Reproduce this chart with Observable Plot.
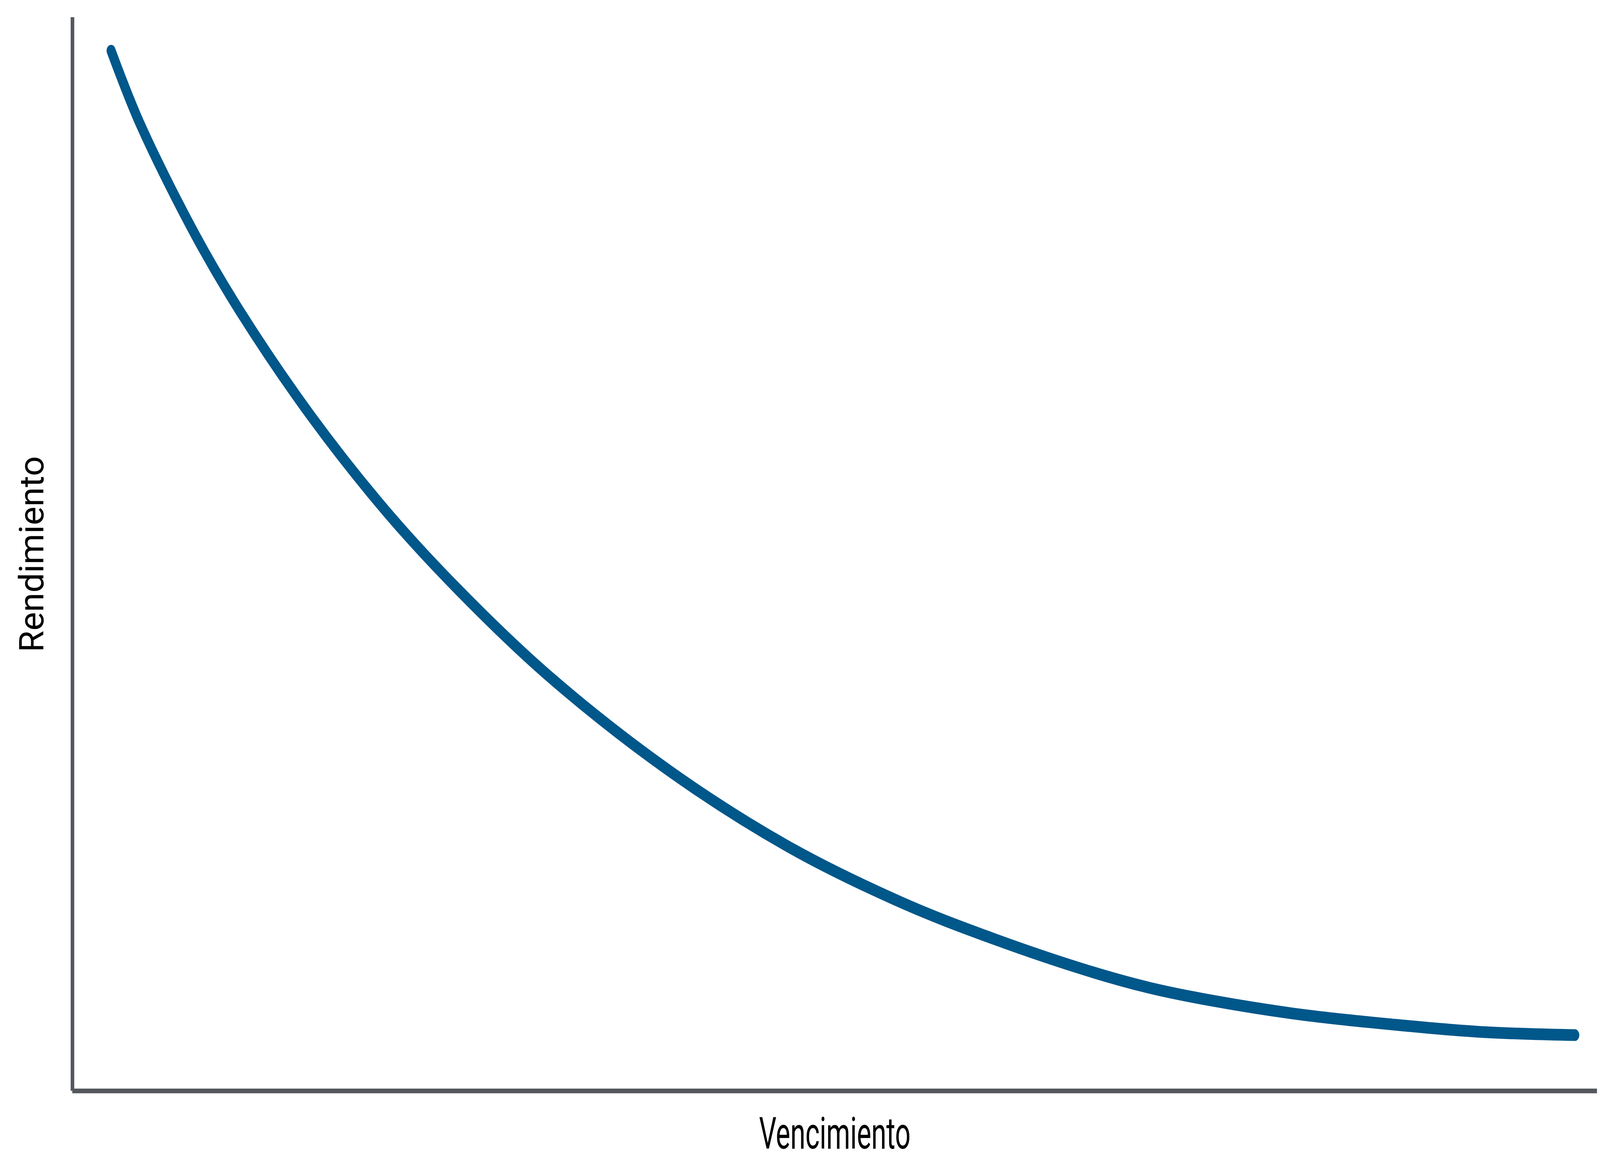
<!DOCTYPE html>
<html>
<head>
<meta charset="utf-8">
<script src="https://cdn.jsdelivr.net/npm/d3@7"></script>
<script src="https://cdn.jsdelivr.net/npm/@observablehq/plot@0.6"></script>
<style>
  html, body { margin: 0; padding: 0; background: #ffffff; overflow: hidden; }
  #chart svg { display: block; width: 100vw; height: 100vh; max-width: none; }
</style>
</head>
<body>
<div id="chart"></div>
<script>
// Maturity (arbitrary years scale) and yield (arbitrary units)
const maturity    = [0.76, 1.32, 2.41, 3.30, 4.72, 6.19, 7.59, 9.36, 11.72, 14.07, 16.29, 18.05, 19.98, 21.20, 22.44, 24.19, 25.95, 27.70, 29.56];
const yieldValues = [9.69, 9.02, 7.98, 7.26, 6.27, 5.39, 4.67, 3.87, 2.99, 2.28, 1.76, 1.43, 1.12, 0.96, 0.84, 0.71, 0.62, 0.55, 0.52];
const xLabel = "Vencimiento";
const yLabel = "Rendimiento";

const curve = maturity.map((m, i) => ({maturity: m, yield: yieldValues[i]}));

const axisColor = "#54575b";
const lineColor = "#00578a";

const chart = Plot.plot({
  width: 5333,
  height: 3000,
  marginLeft: 241,
  marginRight: 10,
  marginTop: 44,
  marginBottom: 208,
  x: {domain: [0, 30], axis: null},
  y: {domain: [0, 10], axis: null},
  style: {background: "#ffffff", fontFamily: "Roboto, 'Liberation Sans Narrow', sans-serif"},
  marks: [
    Plot.ruleX([0], {stroke: axisColor, strokeWidth: 12}),
    Plot.ruleY([0], {stroke: axisColor, strokeWidth: 12}),
    Plot.line(curve, {
      x: "maturity", y: "yield",
      stroke: lineColor, strokeWidth: 30,
      strokeLinecap: "round", strokeLinejoin: "round",
      curve: "catmull-rom"
    }),
    Plot.text([xLabel], {
      frameAnchor: "bottom", text: d => d, dy: 111,
      textAnchor: "middle", lineAnchor: "middle", fontSize: 113, fill: "#000000"
    }),
    Plot.text([yLabel], {
      frameAnchor: "left", text: d => d, dx: -133, rotate: -90,
      textAnchor: "middle", lineAnchor: "middle", fontSize: 113, fill: "#000000"
    })
  ]
});

// fill the whole window with the 5333x3000 drawing
chart.setAttribute("preserveAspectRatio", "none");

// condense the labels to match the narrow typeface of the original
d3.select(chart).selectAll("text").each(function() {
  const t = this.textContent;
  if (t === xLabel) d3.select(this).attr("textLength", 505).attr("lengthAdjust", "spacingAndGlyphs");
  if (t === yLabel) d3.select(this).attr("textLength", 502).attr("lengthAdjust", "spacingAndGlyphs");
});

document.getElementById("chart").appendChild(chart);
</script>
</body>
</html>
